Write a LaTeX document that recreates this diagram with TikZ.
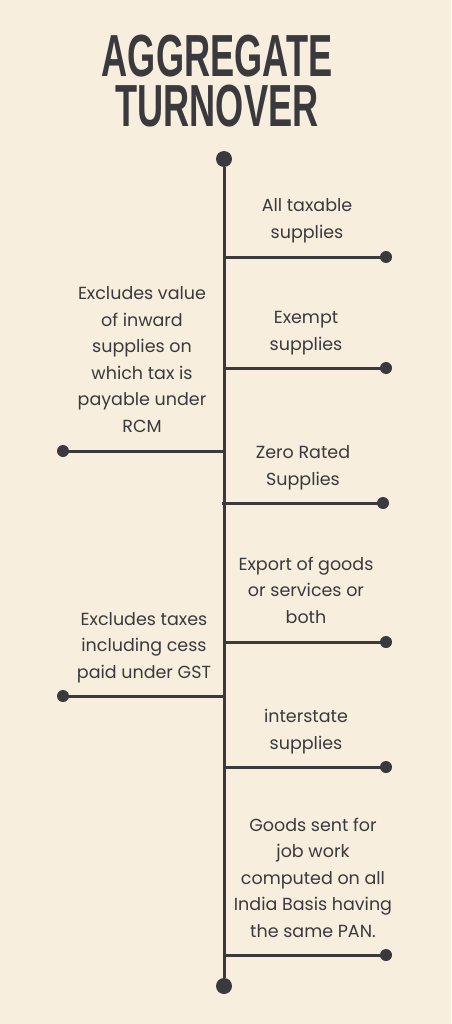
\documentclass[tikz,border=0pt]{standalone}
\usepackage{fontspec}
\setmainfont{Poppins}
\newfontfamily\titlefont{Liberation Sans}
\usetikzlibrary{positioning}
\definecolor{cream}{HTML}{F7EEDD}
\definecolor{ink}{HTML}{3A393D}

\begin{document}
\begin{tikzpicture}[x=1pt, y=-1pt,
    lbl/.style={text=ink, align=center, inner sep=0pt, anchor=base,
                font=\fontsize{17.5}{26.5}\selectfont},
    branch/.style={draw=ink, line width=3pt},
    enddot/.style={circle, fill=ink, inner sep=0pt, minimum size=12pt},
    bigdot/.style={circle, fill=ink, inner sep=0pt, minimum size=16pt},
    ttl/.style={text=ink, inner sep=0pt, anchor=base, align=center,
                font=\titlefont\bfseries\fontsize{59.4}{50}\selectfont},
  ]
  \fill[cream] (0,0) rectangle (451,1024);
  \useasboundingbox (0,0) rectangle (451,1024);

  % title
  \node[ttl, xscale=0.609, transform shape] (title) at (217,127) {AGGREGATE\\TURNOVER};

  % spine
  \node[bigdot] (top) at (224,159) {};
  \node[bigdot] (bot) at (224,986) {};
  \draw[branch] (top) -- (bot);

  % branch points on the spine
  \coordinate (j1) at (224,257);
  \coordinate (j2) at (224,368);
  \coordinate (j3) at (224,451);
  \coordinate (j4) at (222,503);
  \coordinate (j5) at (224,642);
  \coordinate (j6) at (224,696);
  \coordinate (j7) at (224,767);
  \coordinate (j8) at (224,955);

  \node[enddot] (e1) at (386,257) {};
  \node[enddot] (e2) at (386,368) {};
  \node[enddot] (e3) at (63,451)  {};
  \node[enddot] (e4) at (383,503) {};
  \node[enddot] (e5) at (386,642) {};
  \node[enddot] (e6) at (63,696)  {};
  \node[enddot] (e7) at (386,767) {};
  \node[enddot] (e8) at (386,955) {};

  \foreach \i in {1,...,8}
    \draw[branch] (j\i) -- (e\i.center);

  % labels (anchored at the baseline of their last line)
  \node[lbl] (l1) at (307,238) {All taxable\\supplies};
  \node[lbl] (l2) at (306,350) {Exempt\\supplies};
  \node[lbl] (l3) at (142,432) {Excludes value\\of inward\\supplies on\\which tax is\\payable under\\RCM};
  \node[lbl] (l4) at (303,485) {Zero Rated\\Supplies};
  \node[lbl] (l5) at (306,623) {Export of goods\\or services or\\both};
  \node[lbl] (l6) at (144,678) {Excludes taxes\\including cess\\paid under GST};
  \node[lbl] (l7) at (306,749) {interstate\\supplies};
  \node[lbl] (l8) at (313,937) {Goods sent for\\job work\\computed on all\\India Basis having\\the same PAN.};
\end{tikzpicture}
\end{document}
